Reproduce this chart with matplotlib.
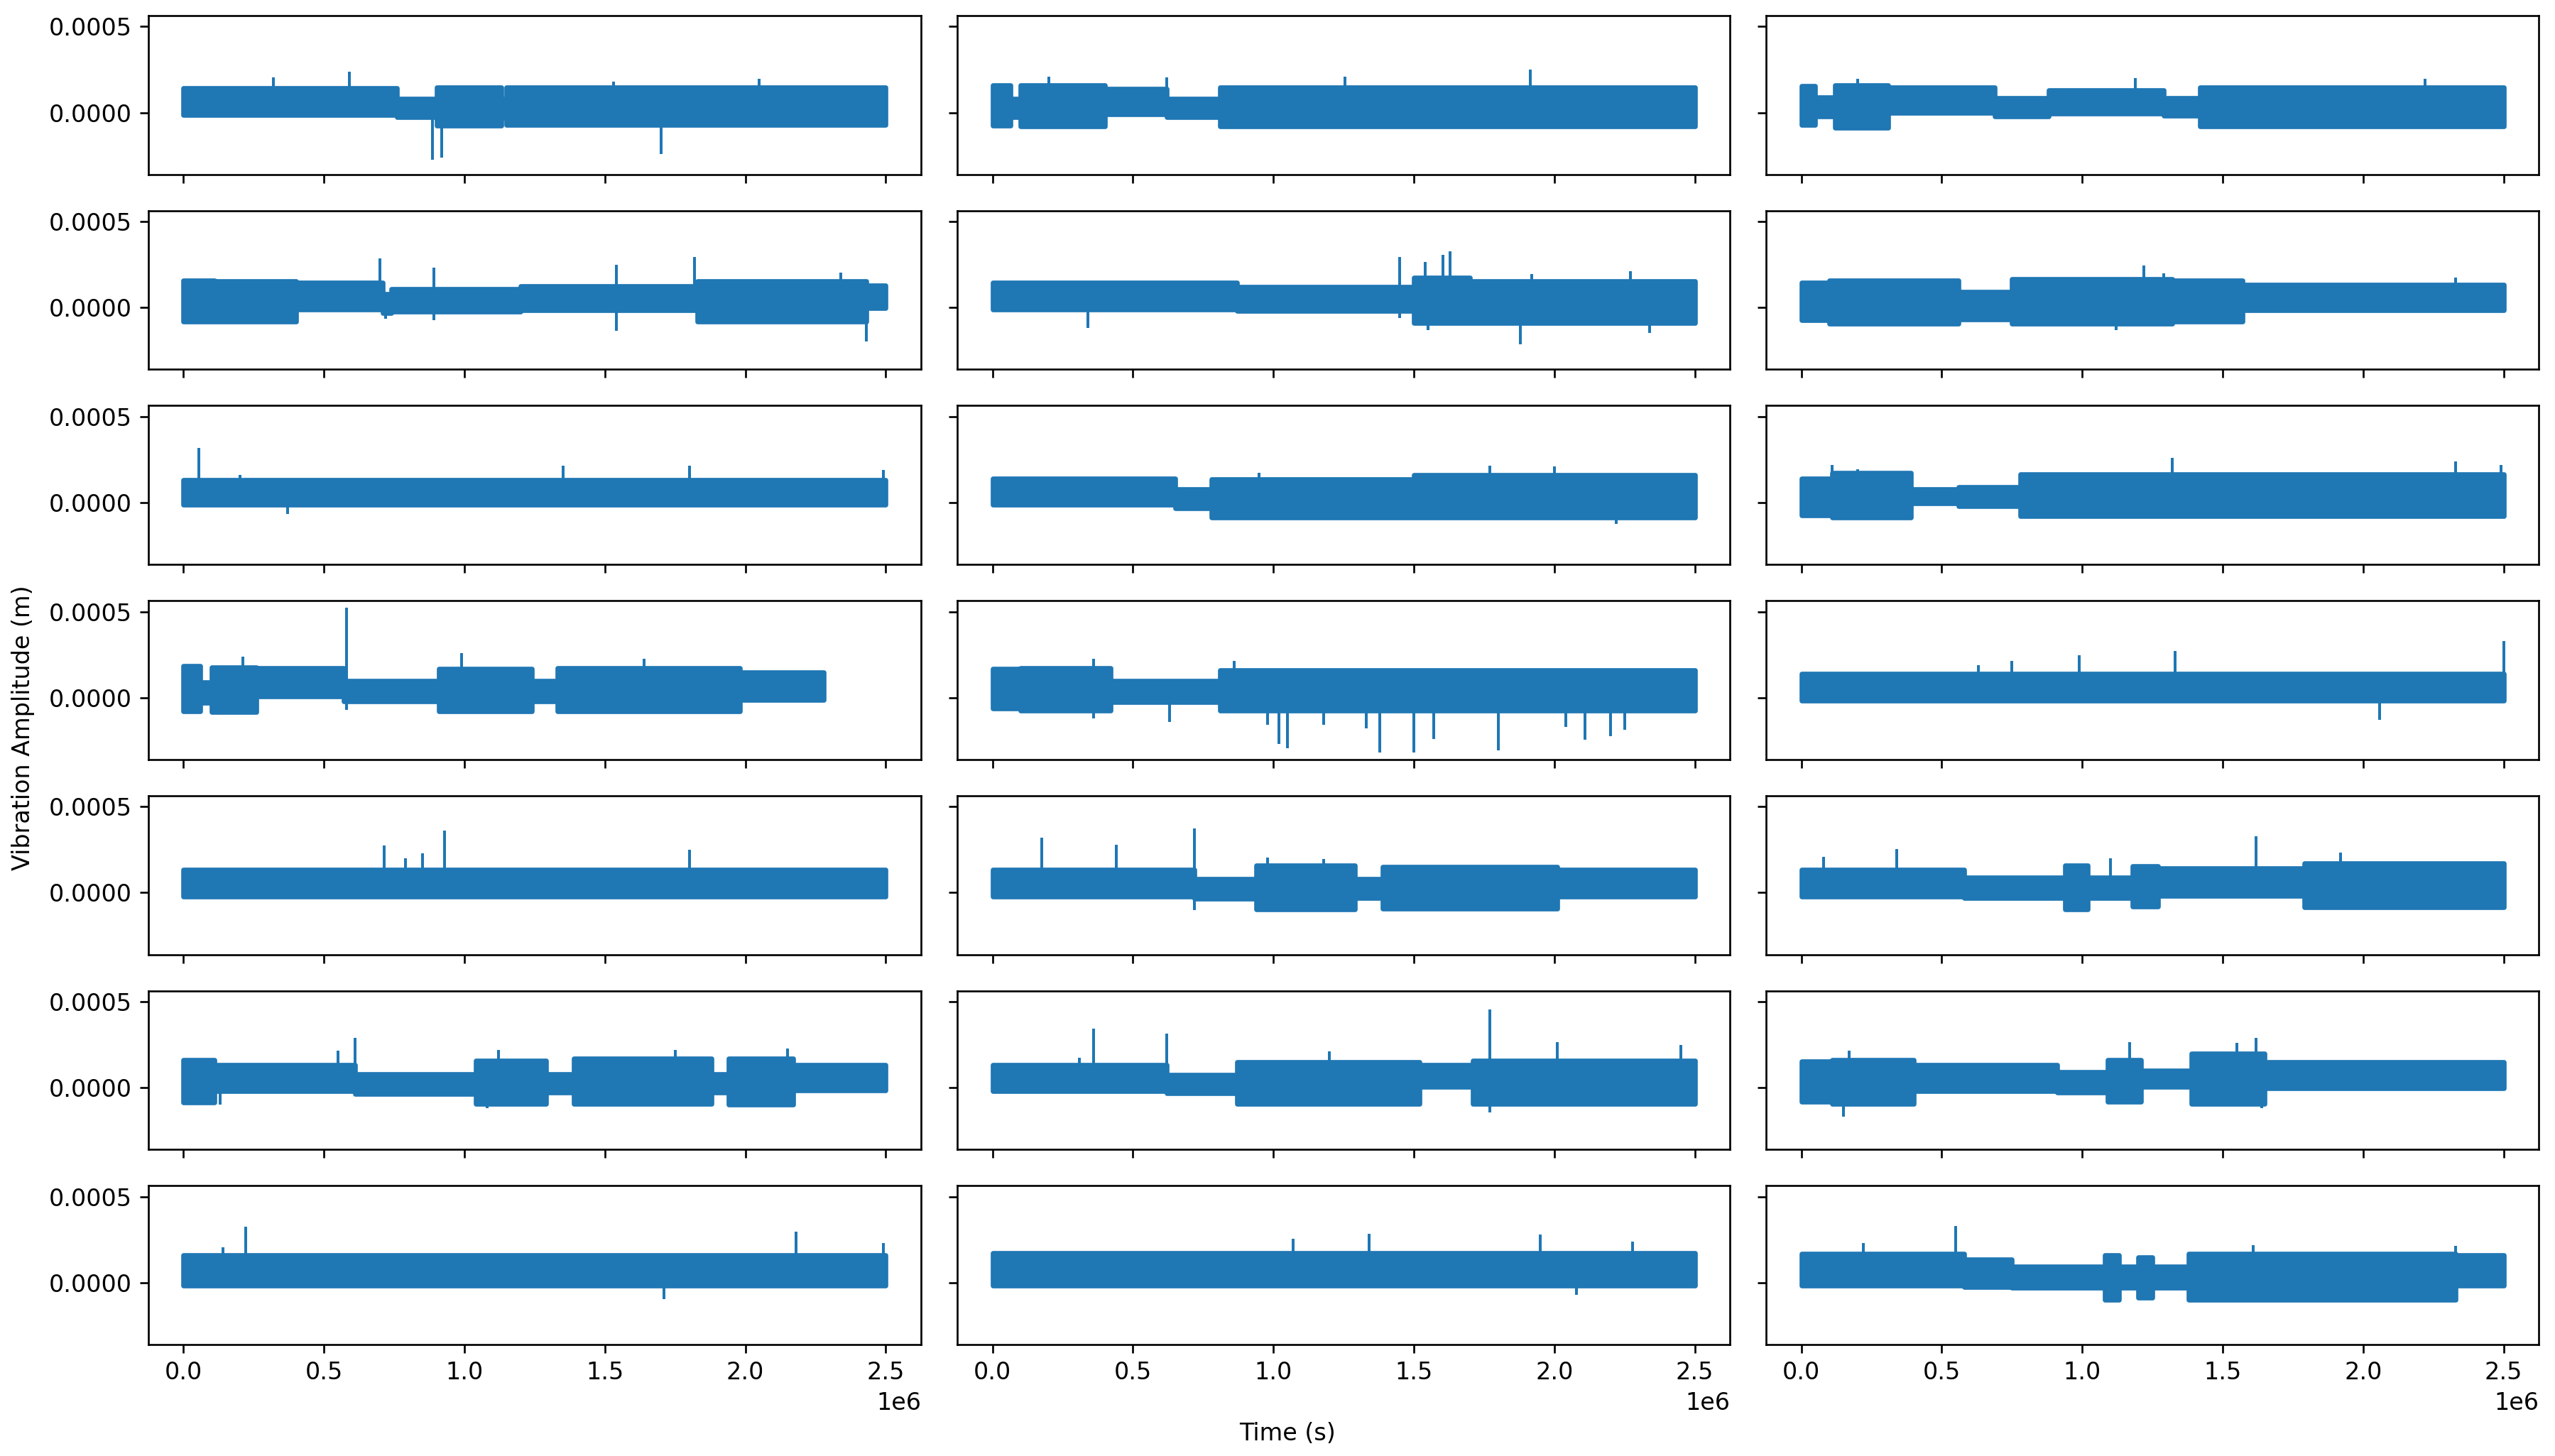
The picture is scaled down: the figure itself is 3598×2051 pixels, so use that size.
import numpy as np
import matplotlib.pyplot as plt

# envelope segments per panel: (t_start, t_end, low, high); t in 1e6 s, amplitude in 1e-4 m
band_1_1 = [(0, 0.76, -0.15, 1.42), (0.76, 0.90, -0.25, 0.8), (0.90, 1.13, -0.75, 1.45),
            (1.13, 1.15, -0.3, 0.8), (1.15, 2.5, -0.72, 1.45)]
band_1_2 = [(0, 0.065, -0.75, 1.6), (0.065, 0.10, -0.25, 0.8), (0.10, 0.40, -0.8, 1.6),
            (0.40, 0.62, -0.12, 1.39), (0.62, 0.81, -0.26, 0.8), (0.81, 2.5, -0.8, 1.45)]
band_1_3 = [(0, 0.05, -0.72, 1.53), (0.05, 0.12, -0.22, 0.9), (0.12, 0.31, -0.88, 1.6),
            (0.31, 0.69, 0.0, 1.45), (0.69, 0.88, -0.22, 0.84), (0.88, 1.29, -0.08, 1.32),
            (1.29, 1.42, -0.2, 0.84), (1.42, 2.5, -0.8, 1.46)]
band_2_1 = [(0, 0.11, -0.8, 1.6), (0.11, 0.40, -0.8, 1.53), (0.40, 0.71, -0.12, 1.46),
            (0.71, 0.74, -0.3, 0.8), (0.74, 1.2, -0.22, 1.1), (1.2, 1.83, -0.15, 1.25),
            (1.83, 2.43, -0.8, 1.53), (2.43, 2.5, -0.05, 1.3)]
band_2_2 = [(0, 0.87, -0.12, 1.46), (0.87, 1.5, -0.2, 1.19), (1.5, 1.7, -0.88, 1.74),
            (1.7, 2.5, -0.88, 1.53)]
band_2_3 = [(0, 0.10, -0.75, 1.46), (0.10, 0.56, -0.95, 1.6), (0.56, 0.75, -0.68, 0.91),
            (0.75, 1.32, -0.95, 1.67), (1.32, 1.57, -0.8, 1.6), (1.57, 2.5, -0.17, 1.32)]
band_3_1 = [(0, 2.5, -0.12, 1.32)]
band_3_2 = [(0, 0.65, -0.12, 1.39), (0.65, 0.78, -0.35, 0.77), (0.78, 1.5, -0.88, 1.35),
            (1.5, 2.5, -0.88, 1.6)]
band_3_3 = [(0, 0.11, -0.75, 1.39), (0.11, 0.39, -0.88, 1.75), (0.39, 0.56, -0.06, 0.77),
            (0.56, 0.78, -0.2, 0.91), (0.78, 2.5, -0.8, 1.67)]
band_4_1 = [(0, 0.06, -0.8, 1.85), (0.06, 0.1, -0.3, 0.9), (0.1, 0.26, -0.85, 1.75),
            (0.26, 0.57, 0.08, 1.71), (0.57, 0.91, -0.22, 0.98), (0.91, 1.24, -0.8, 1.67),
            (1.24, 1.33, -0.22, 0.98), (1.33, 1.98, -0.8, 1.73), (1.98, 2.28, -0.12, 1.46)]
band_4_2 = [(0, 0.1, -0.65, 1.7), (0.1, 0.42, -0.75, 1.74), (0.42, 0.81, -0.26, 0.98),
            (0.81, 2.5, -0.75, 1.6)]
band_4_3 = [(0, 2.5, -0.19, 1.39)]
band_5_1 = [(0, 2.5, -0.24, 1.36)]
band_5_2 = [(0, 0.72, -0.24, 1.36), (0.72, 0.94, -0.37, 0.8), (0.94, 1.29, -0.99, 1.57),
            (1.29, 1.39, -0.3, 0.8), (1.39, 2.01, -0.93, 1.5), (2.01, 2.5, -0.24, 1.36)]
band_5_3 = [(0, 0.58, -0.24, 1.36), (0.58, 0.94, -0.3, 0.87), (0.94, 1.02, -0.99, 1.6),
            (1.02, 1.18, -0.3, 0.87), (1.18, 1.27, -0.8, 1.55), (1.27, 1.79, -0.17, 1.42),
            (1.79, 2.5, -0.86, 1.7)]
band_6_1 = [(0, 0.11, -0.85, 1.6), (0.11, 0.61, -0.18, 1.35), (0.61, 1.04, -0.36, 0.79),
            (1.04, 1.29, -0.94, 1.56), (1.29, 1.39, -0.3, 0.79), (1.39, 1.88, -0.94, 1.69),
            (1.88, 1.94, -0.3, 0.8), (1.94, 2.17, -0.98, 1.69), (2.17, 2.5, -0.14, 1.35)]
band_6_2 = [(0, 0.62, -0.18, 1.35), (0.62, 0.87, -0.32, 0.75), (0.87, 1.52, -0.94, 1.49),
            (1.52, 1.71, 0.03, 1.35), (1.71, 2.5, -0.94, 1.56)]
band_6_3 = [(0, 0.11, -0.8, 1.55), (0.11, 0.40, -0.94, 1.62), (0.40, 0.91, -0.18, 1.35),
            (0.91, 1.09, -0.28, 0.93), (1.09, 1.21, -0.8, 1.6), (1.21, 1.39, 0.03, 1.0),
            (1.39, 1.65, -0.94, 1.97), (1.65, 2.5, -0.04, 1.49)]
band_7_1 = [(0, 2.5, -0.18, 1.62)]
band_7_2 = [(0, 2.5, -0.18, 1.72)]
band_7_3 = [(0, 0.58, -0.18, 1.69), (0.58, 0.75, -0.25, 1.35), (0.75, 1.08, -0.28, 0.94),
            (1.08, 1.13, -1.0, 1.6), (1.13, 1.20, -0.28, 0.94), (1.20, 1.25, -0.85, 1.5),
            (1.25, 1.38, -0.28, 0.94), (1.38, 2.33, -1.0, 1.69), (2.33, 2.5, -0.18, 1.6)]

# isolated spikes: (t, peak amplitude), same units
spikes_1_1 = [(0.32, 2.05), (0.59, 2.38), (0.885, -2.74), (0.92, -2.64), (1.70, -2.42),
              (1.53, 1.8), (2.05, 1.95)]
spikes_1_2 = [(0.62, 2.03), (1.255, 2.1), (1.915, 2.5), (0.2, 2.1)]
spikes_1_3 = [(1.19, 2.0), (0.2, 1.97), (2.22, 1.95)]
spikes_2_1 = [(0.70, 2.84), (0.89, 2.33), (1.54, 2.5), (1.82, 2.93), (2.34, 2.05),
              (1.54, -1.37), (2.43, -1.96), (0.72, -0.65), (0.89, -0.75)]
spikes_2_2 = [(1.45, 2.94), (1.54, 2.64), (1.63, 3.26), (1.605, 3.05), (0.34, -1.2),
              (1.88, -2.13), (2.34, -1.48), (1.55, -1.3), (1.45, -0.6), (1.92, 1.95), (2.27, 2.1)]
spikes_2_3 = [(1.22, 2.43), (1.12, -1.3), (2.33, 1.75), (1.29, 2.0)]
spikes_3_1 = [(0.055, 3.18), (1.35, 2.14), (1.80, 2.14), (2.49, 1.9), (0.37, -0.68), (0.2, 1.6)]
spikes_3_2 = [(1.77, 2.13), (2.0, 2.1), (2.22, -1.26), (0.95, 1.75)]
spikes_3_3 = [(1.32, 2.6), (2.33, 2.39), (0.11, 2.2), (2.49, 2.2), (0.2, 1.95)]
spikes_4_1 = [(0.58, 5.25), (0.58, -0.7), (0.21, 2.39), (0.99, 2.6), (1.64, 2.25)]
spikes_4_2 = [(0.36, 2.25), (0.86, 2.14), (0.36, -1.2), (0.63, -1.43), (0.98, -1.6),
              (1.02, -2.68), (1.05, -2.96), (1.18, -1.6), (1.33, -1.8), (1.38, -3.18),
              (1.50, -3.2), (1.57, -2.4), (1.80, -3.05), (2.04, -1.7), (2.11, -2.43),
              (2.20, -2.25), (2.25, -1.85)]
spikes_4_3 = [(0.75, 2.13), (0.99, 2.46), (1.33, 2.71), (2.5, 3.3), (2.06, -1.3), (0.63, 1.9)]
spikes_5_1 = [(0.715, 2.74), (0.85, 2.3), (0.93, 3.6), (1.80, 2.5), (0.79, 2.0)]
spikes_5_2 = [(0.175, 3.18), (0.44, 2.8), (0.72, 3.72), (0.72, -1.0), (0.98, 2.05), (1.18, 1.95)]
spikes_5_3 = [(0.34, 2.53), (1.62, 3.29), (1.92, 2.35), (0.08, 2.1), (1.1, 2.0)]
spikes_6_1 = [(0.61, 2.9), (0.55, 2.14), (1.12, 2.2), (1.75, 2.2), (2.15, 2.29),
              (1.08, -1.2), (0.13, -1.0)]
spikes_6_2 = [(0.36, 3.43), (0.62, 3.14), (1.77, 4.56), (1.77, -1.43), (2.01, 2.64),
              (2.45, 2.47), (1.20, 2.1), (0.31, 1.75)]
spikes_6_3 = [(0.15, -1.68), (1.17, 2.67), (1.62, 2.89), (1.55, 2.6), (1.64, -1.2), (0.17, 2.15)]
spikes_7_1 = [(0.22, 3.26), (2.18, 2.97), (1.71, -0.94), (2.49, 2.3), (0.14, 2.05)]
spikes_7_2 = [(1.34, 2.85), (1.95, 2.8), (1.07, 2.55), (2.08, -0.7), (2.28, 2.4)]
spikes_7_3 = [(0.55, 3.3), (1.61, 2.2), (2.33, 2.15), (0.22, 2.3)]

bands = [[band_1_1, band_1_2, band_1_3], [band_2_1, band_2_2, band_2_3],
         [band_3_1, band_3_2, band_3_3], [band_4_1, band_4_2, band_4_3],
         [band_5_1, band_5_2, band_5_3], [band_6_1, band_6_2, band_6_3],
         [band_7_1, band_7_2, band_7_3]]
spikes = [[spikes_1_1, spikes_1_2, spikes_1_3], [spikes_2_1, spikes_2_2, spikes_2_3],
          [spikes_3_1, spikes_3_2, spikes_3_3], [spikes_4_1, spikes_4_2, spikes_4_3],
          [spikes_5_1, spikes_5_2, spikes_5_3], [spikes_6_1, spikes_6_2, spikes_6_3],
          [spikes_7_1, spikes_7_2, spikes_7_3]]

T_SCALE = 1e6
A_SCALE = 1e-4

fig, axes = plt.subplots(7, 3, sharex=True, sharey=True, figsize=(3598 / 240, 2051 / 240))
fig.subplots_adjust(left=0.0581, right=0.9936, bottom=0.0765, top=0.9893,
                    wspace=0.047, hspace=0.228)

for r in range(7):
    for c in range(3):
        ax = axes[r, c]
        seg = bands[r][c]
        t = np.array([[s[0], s[1]] for s in seg]).ravel() * T_SCALE
        lo = np.array([[s[2], s[2]] for s in seg]).ravel() * A_SCALE
        hi = np.array([[s[3], s[3]] for s in seg]).ravel() * A_SCALE
        ax.fill_between(t, lo, hi, color='C0', lw=2.0, edgecolor='C0')
        sp = np.array(spikes[r][c])
        base = np.interp(sp[:, 0] * T_SCALE, t, (lo + hi) / 2)
        ax.vlines(sp[:, 0] * T_SCALE, base, sp[:, 1] * A_SCALE, color='C0', lw=1.2)

axes[0, 0].set_xlim(-0.125e6, 2.625e6)
axes[0, 0].set_ylim(-3.6e-4, 5.64e-4)
axes[0, 0].set_xticks(np.arange(0, 2.6e6, 0.5e6))
axes[0, 0].set_yticks([0, 0.0005])

fig.text(0.504, 0.0156, 'Time (s)', ha='center', va='center')
fig.text(0.009, 0.5, 'Vibration Amplitude (m)', rotation=90, ha='center', va='center')

fig.savefig('out.png', dpi=240)
